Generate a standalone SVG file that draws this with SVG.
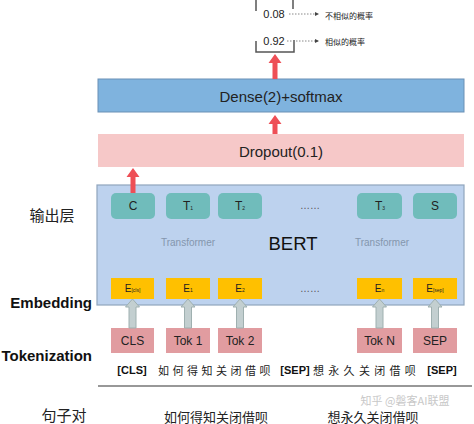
<svg xmlns="http://www.w3.org/2000/svg" width="474" height="424" viewBox="0 0 474 424">
<style>
.sans{font-family:"Liberation Sans",Arial,sans-serif}
.cjk{font-family:"Noto Sans CJK SC",sans-serif}
.teal{fill:#70bcbb}
.emb{fill:#ffc000}
.tok{fill:#e19ca0}
.lbl{font-size:12px;fill:#222;text-anchor:middle;dominant-baseline:central}
.sm{font-size:10px;fill:#222;text-anchor:middle;dominant-baseline:central}
.red{fill:#ee4f56}
.gray{fill:#c3cfd0;stroke:#9fb0b0;stroke-width:1}
.brk{fill:none;stroke:#555;stroke-width:1.5}
.dot{stroke:#888;stroke-width:1;stroke-dasharray:1.5 1.5}
</style>
<defs>
<marker id="ah" markerWidth="4" markerHeight="4" refX="3" refY="2" orient="auto" markerUnits="userSpaceOnUse">
<path d="M0,0 L4,2 L0,4 Z" fill="#444"/>
</marker>
</defs>
<rect width="474" height="424" fill="#fff"/>

<g id="output">
<path class="brk" d="M256,0 V11 M293,0 V9"/>
<text class="sans" x="274" y="14" font-size="11" fill="#222" text-anchor="middle" dominant-baseline="central">0.08</text>
<text class="sans" x="274" y="41" font-size="11" fill="#222" text-anchor="middle" dominant-baseline="central">0.92</text>
<path class="brk" d="M256,41 V52 H294 V40"/>
<text class="cjk" x="325" y="15" font-size="8" fill="#222" dominant-baseline="central">不相似的概率</text>
<text class="cjk" x="325" y="41" font-size="8" fill="#222" dominant-baseline="central">相似的概率</text>
</g>

<g id="dense">
<rect x="98" y="79" width="366" height="33" fill="#7fb3de" stroke="#6a90b5" stroke-width="1"/>
<text class="sans" x="281" y="96" font-size="15" fill="#222" text-anchor="middle" dominant-baseline="central">Dense(2)+softmax</text>
</g>

<g id="dropout">
<rect x="98" y="134" width="366" height="33" fill="#f6c8c8"/>
<text class="sans" x="281" y="151" font-size="15" fill="#222" text-anchor="middle" dominant-baseline="central">Dropout(0.1)</text>
</g>

<g id="bert">
<rect x="97" y="185" width="367" height="120" fill="#bdd2ee" stroke="#8fa5bd" stroke-width="1.2"/>
<text class="sans" x="293" y="243" font-size="18.5" fill="#111" text-anchor="middle" dominant-baseline="central">BERT</text>
<text class="sans" x="188" y="242" font-size="10" fill="#8496ad" text-anchor="middle" dominant-baseline="central">Transformer</text>
<text class="sans" x="382" y="242" font-size="10" fill="#8496ad" text-anchor="middle" dominant-baseline="central">Transformer</text>
<text class="sans" x="310" y="205" font-size="10" fill="#555" text-anchor="middle" dominant-baseline="central">……</text>
<text class="sans" x="310" y="288" font-size="10" fill="#555" text-anchor="middle" dominant-baseline="central">……</text>
</g>

<g id="C"><rect class="teal" x="111" y="193" width="44" height="26" rx="5"/><text class="sans lbl" x="133" y="206">C</text></g>
<g id="T1"><rect class="teal" x="166" y="193" width="44" height="26" rx="5"/><text class="sans lbl" x="188" y="206">T<tspan font-size="5" dy="2">1</tspan></text></g>
<g id="T2"><rect class="teal" x="218" y="193" width="44" height="26" rx="5"/><text class="sans lbl" x="240" y="206">T<tspan font-size="5" dy="2">2</tspan></text></g>
<g id="T3"><rect class="teal" x="357" y="193" width="45" height="26" rx="5"/><text class="sans lbl" x="380" y="206">T<tspan font-size="5" dy="2">3</tspan></text></g>
<g id="S"><rect class="teal" x="413" y="193" width="44" height="26" rx="5"/><text class="sans lbl" x="435" y="206">S</text></g>

<g id="Ecls"><rect class="emb" x="111" y="278" width="43" height="21"/><text class="sans sm" x="132.5" y="288.5">E<tspan font-size="5" dy="1.5">[cls]</tspan></text></g>
<g id="E1"><rect class="emb" x="166" y="278" width="44" height="21"/><text class="sans sm" x="188" y="288.5">E<tspan font-size="5" dy="1.5">1</tspan></text></g>
<g id="E2"><rect class="emb" x="218" y="278" width="44" height="21"/><text class="sans sm" x="240" y="288.5">E<tspan font-size="5" dy="1.5">2</tspan></text></g>
<g id="En"><rect class="emb" x="357" y="278" width="45" height="21"/><text class="sans sm" x="379.5" y="288.5">E<tspan font-size="5" dy="1.5">n</tspan></text></g>
<g id="Esep"><rect class="emb" x="413" y="278" width="44" height="21"/><text class="sans sm" x="435" y="288.5">E<tspan font-size="5" dy="1.5">[sep]</tspan></text></g>

<g id="CLS"><rect class="tok" x="111" y="328" width="43" height="25"/><text class="sans lbl" x="132.5" y="341">CLS</text></g>
<g id="Tok1"><rect class="tok" x="166" y="328" width="44" height="25"/><text class="sans lbl" x="188" y="341">Tok 1</text></g>
<g id="Tok2"><rect class="tok" x="218" y="328" width="44" height="25"/><text class="sans lbl" x="240" y="341">Tok 2</text></g>
<g id="TokN"><rect class="tok" x="357" y="328" width="45" height="25"/><text class="sans lbl" x="379.5" y="341">Tok N</text></g>
<g id="SEP"><rect class="tok" x="413" y="328" width="44" height="25"/><text class="sans lbl" x="435" y="341">SEP</text></g>

<g id="connectors">
<line class="dot" x1="289" y1="14" x2="318" y2="14" marker-end="url(#ah)"/>
<line class="dot" x1="287" y1="41" x2="318" y2="41" marker-end="url(#ah)"/>
<path class="red" d="M275,54 L281.5,63 L277.5,63 L277.5,79 L272.5,79 L272.5,63 L268.5,63 Z"/>
<path class="red" d="M275,115 L281.5,124 L277.5,124 L277.5,134 L272.5,134 L272.5,124 L268.5,124 Z"/>
<path class="red" d="M133,168 L139.5,177 L135.5,177 L135.5,193 L130.5,193 L130.5,177 L126.5,177 Z"/>
<path class="gray" d="M132.5,299 L139.5,307 L136,307 L136,328 L129,328 L129,307 L125.5,307 Z"/>
<path class="gray" d="M188,299 L195,307 L191.5,307 L191.5,328 L184.5,328 L184.5,307 L181,307 Z"/>
<path class="gray" d="M240,299 L247,307 L243.5,307 L243.5,328 L236.5,328 L236.5,307 L233,307 Z"/>
<path class="gray" d="M379.5,299 L386.5,307 L383,307 L383,328 L376,328 L376,307 L372.5,307 Z"/>
<path class="gray" d="M435,299 L442,307 L438.5,307 L438.5,328 L431.5,328 L431.5,307 L428,307 Z"/>
</g>

<g id="labels">
<text class="cjk" x="52" y="214" font-size="15" fill="#222" text-anchor="middle" dominant-baseline="central">输出层</text>
<text class="sans" x="92" y="302" font-size="15" font-weight="bold" fill="#111" text-anchor="end" dominant-baseline="central">Embedding</text>
<text class="sans" x="92" y="355" font-size="15" font-weight="bold" fill="#111" text-anchor="end" dominant-baseline="central">Tokenization</text>
<text class="cjk" x="64" y="414" font-size="15" fill="#222" text-anchor="middle" dominant-baseline="central">句子对</text>
</g>

<g id="tokens-row">
<text class="sans" x="132" y="370" font-size="11" font-weight="bold" fill="#111" text-anchor="middle" dominant-baseline="central">[CLS]</text>
<text class="cjk" x="158" y="370" font-size="11" fill="#222" letter-spacing="3.5" dominant-baseline="central">如何得知关闭借呗</text>
<text class="sans" x="295" y="370" font-size="11" font-weight="bold" fill="#111" text-anchor="middle" dominant-baseline="central">[SEP]</text>
<text class="cjk" x="313" y="370" font-size="11" fill="#222" letter-spacing="4.3" dominant-baseline="central">想永久关闭借呗</text>
<text class="sans" x="442" y="370" font-size="11" font-weight="bold" fill="#111" text-anchor="middle" dominant-baseline="central">[SEP]</text>
<line x1="98" y1="386" x2="472" y2="386" stroke="#333" stroke-width="1.2"/>
</g>

<g id="sentences">
<text class="cjk" x="216" y="416" font-size="13" fill="#222" text-anchor="middle" dominant-baseline="central">如何得知关闭借呗</text>
<text class="cjk" x="373" y="416" font-size="13" fill="#222" text-anchor="middle" dominant-baseline="central">想永久关闭借呗</text>
<text class="cjk" x="405" y="400" font-size="11" fill="#c8c8c8" text-anchor="middle" dominant-baseline="central">知乎 @磐客AI联盟</text>
</g>
</svg>
